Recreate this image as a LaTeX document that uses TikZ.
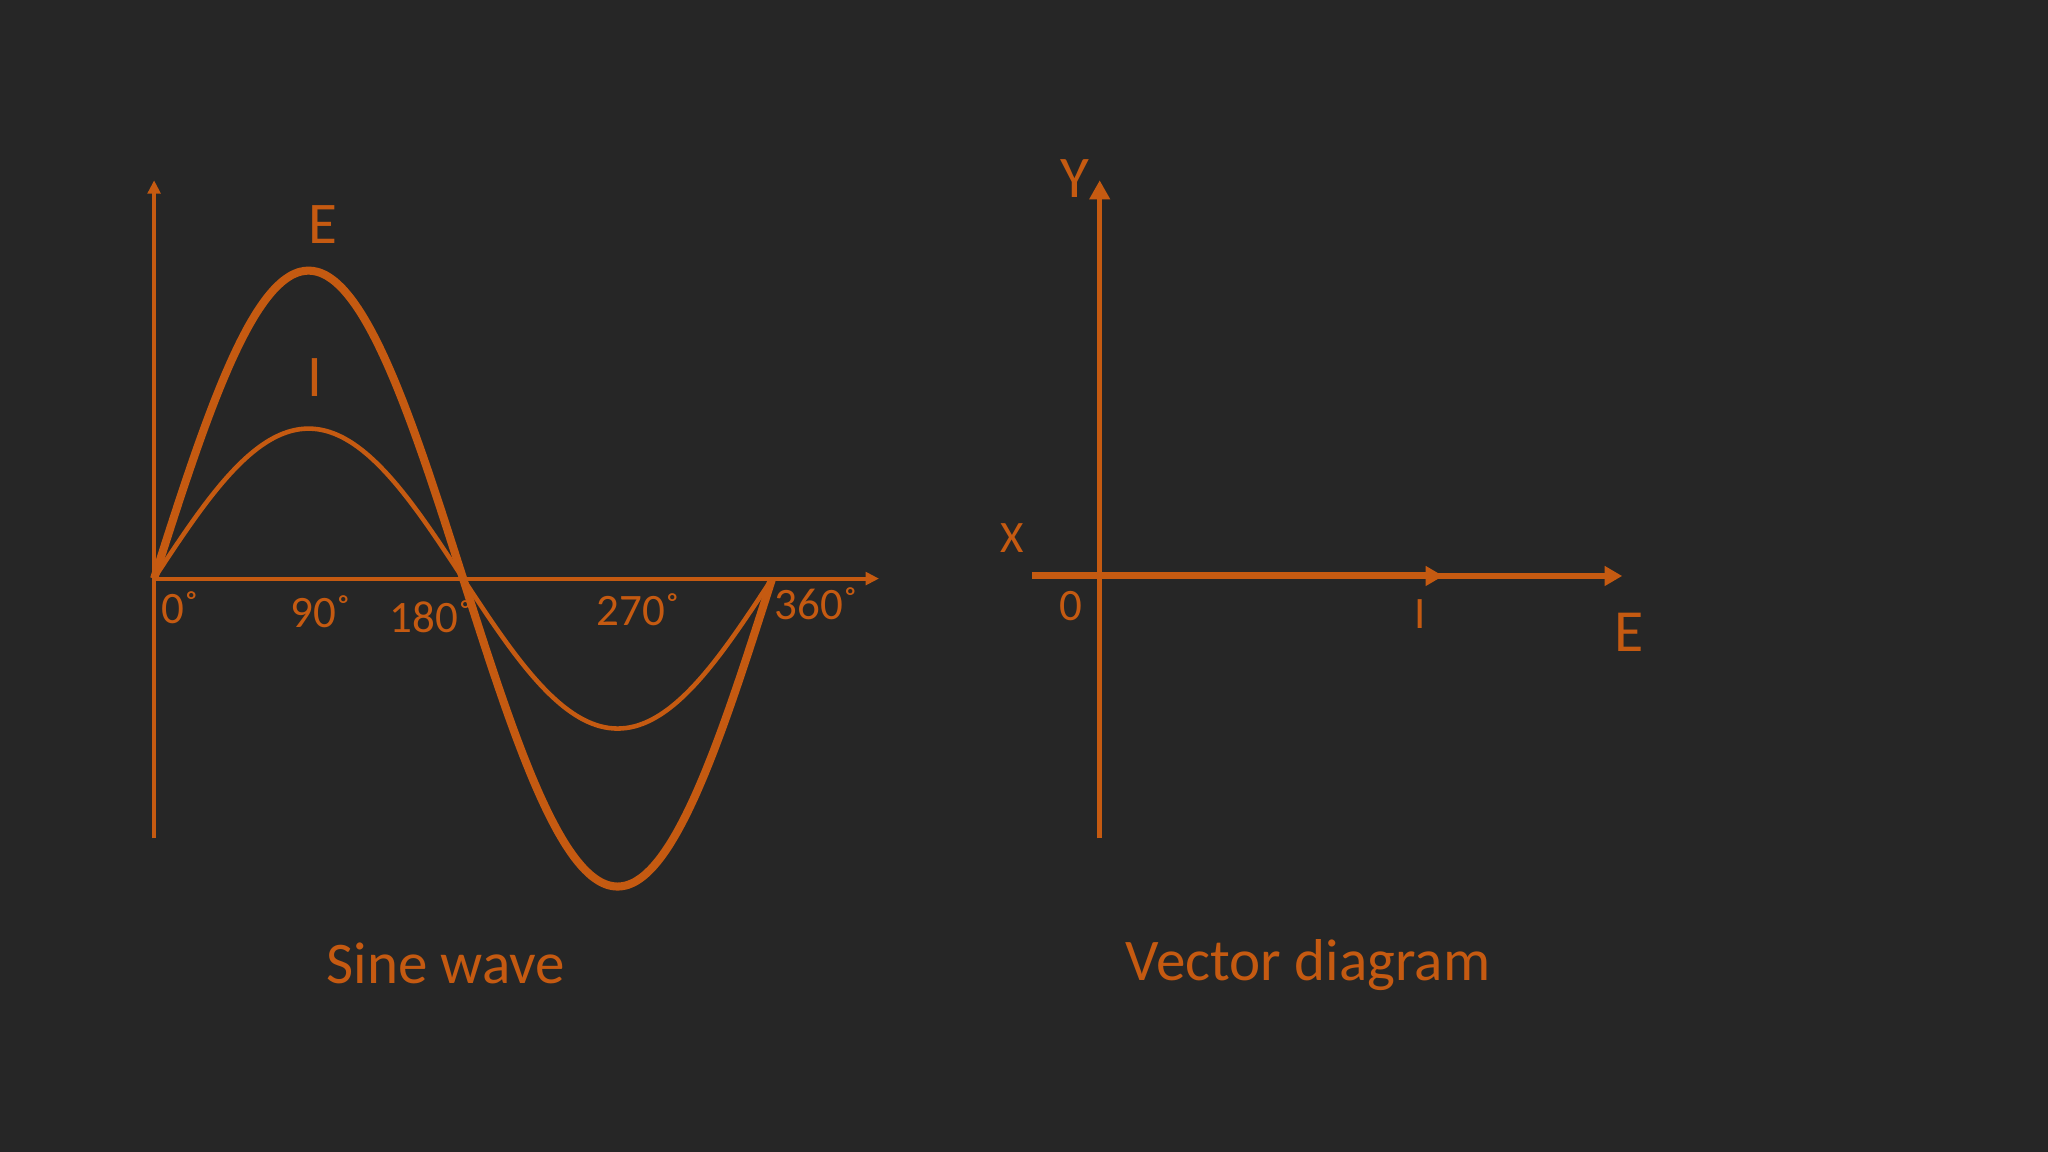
\documentclass[tikz,border=0pt]{standalone}
\usepackage{fontspec}
\setmainfont{Carlito}
\usetikzlibrary{arrows.meta,positioning}
\definecolor{bgdark}{RGB}{38,38,38}
\definecolor{wvorange}{RGB}{197,90,17}

\begin{document}
\begin{tikzpicture}[
  every node/.style={text=wvorange,inner sep=0pt},
  axis/.style={draw=wvorange,line width=1.1pt,-{Triangle[length=3.8pt,width=3.6pt]}},
  vaxis/.style={draw=wvorange,line width=1.4pt,-{Triangle[length=5.4pt,width=5.6pt]}},
  vec/.style={draw=wvorange,line width=2pt,-{Triangle[length=5pt,width=5.4pt]}},
  ewave/.style={draw=wvorange,line width=2.3pt,line join=round},
  iwave/.style={draw=wvorange,line width=1.3pt,line join=round},
  deglbl/.style={font=\fontsize{12.8}{14}\selectfont},
  biglbl/.style={font=\fontsize{16.8}{19}\selectfont},
]
  % Background
  \fill[bgdark] (0,0) rectangle (20.48,11.52);
  \useasboundingbox (0,0) rectangle (20.48,11.52);

  % Sine wave axes
  \coordinate (so) at (1.541,5.734);
  \coordinate (sytop) at (1.541,9.717);
  \coordinate (sybot) at (1.541,3.135);
  \coordinate (sxend) at (8.79,5.734);
  \draw[axis] (sybot) -- (sytop);
  \draw[axis] (so) -- (sxend);

  % E and I curves
  \begin{scope}[shift={(so)}]
    \draw[iwave] plot[domain=0:360,samples=73,smooth] ({\x*6.18/360},{1.50*sin(\x)});
    \draw[ewave] plot[domain=0:360,samples=73,smooth] ({\x*6.18/360},{3.08*sin(\x)});
  \end{scope}

  \node[biglbl] (elbl) at (3.225,9.273) {E};
  \node[biglbl] (ilbl) at (3.145,7.745) {I};
  \node[deglbl] (d0) at (1.80,5.446) {0˚};
  \node[deglbl] (d90) at (3.205,5.407) {90˚};
  \node[deglbl] (d180) at (4.31,5.355) {180˚};
  \node[deglbl] (d270) at (6.38,5.420) {270˚};
  \node[deglbl] (d360) at (8.16,5.486) {360˚};
  \node[biglbl] (sinecap) at (4.46,1.881) {Sine wave};

  % Vector diagram
  \coordinate (vo) at (10.997,5.760);
  \coordinate (vytop) at (10.997,9.717);
  \coordinate (vybot) at (10.997,3.135);
  \coordinate (vxstart) at (10.318,5.760);
  \coordinate (etip) at (16.222,5.760);
  \coordinate (itip) at (14.432,5.760);
  \draw[vec,line width=1.7pt] (vxstart) -- (etip);
  \draw[vec] (vxstart) -- (itip);
  \draw[vaxis] (vybot) -- (vytop);

  \node[biglbl] (ylbl) at (10.75,9.730) {Y};
  \node[deglbl] (xlbl) at (10.12,6.139) {X};
  \node[deglbl] (olbl) at (10.71,5.459) {0};
  \node[deglbl] (ivlbl) at (14.205,5.381) {I};
  \node[font=\fontsize{17}{20}\selectfont] (evlbl) at (16.29,5.198) {E};
  \node[biglbl] (veccap) at (13.08,1.865) {Vector diagram};
\end{tikzpicture}
\end{document}
